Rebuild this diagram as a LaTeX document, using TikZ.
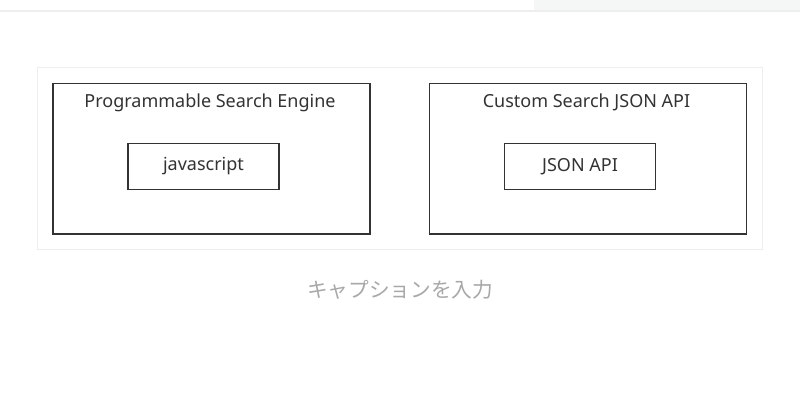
\documentclass[tikz,border=0pt]{standalone}
\usepackage{fontspec}
\setmainfont{Noto Sans}
\newfontfamily\jpfont{Noto Sans CJK JP}
\usetikzlibrary{positioning}
\definecolor{boxline}{HTML}{333333}
\definecolor{frameline}{HTML}{EEEEEE}
\definecolor{barfill}{HTML}{F5F6F6}
\definecolor{captiongray}{HTML}{A8A8A8}

\begin{document}
\begin{tikzpicture}[x=0.75pt,y=-0.75pt,
    service/.style={draw=boxline, line width=1.1pt, minimum width=238pt, minimum height=113pt, inner sep=0pt},
    apibox/.style={draw=boxline, line width=1.1pt, minimum width=113.5pt, minimum height=34.5pt, inner sep=0pt,
        text=boxline, font=\fontsize{13.5}{15}\selectfont},
    servicetitle/.style={text=boxline, inner sep=0pt, font=\fontsize{13.5}{15}\selectfont}]
    % Page and frame
    \useasboundingbox (0,0) rectangle (800,419);
    \fill[white] (0,0) rectangle (800,419);
    \fill[barfill] (534,0) rectangle (800,10);
    \draw[frameline, line width=1.5pt] (0,10.5) -- (800,10.5);
    \draw[frameline, line width=0.75pt] (37,67) rectangle (762,249);

    % Services with their inner boxes
    \foreach \name/\cx/\title/\inner in {pse/211.5/Programmable Search Engine/javascript,
                                          cse/588/Custom Search JSON API/JSON API} {
        \node[service] (\name) at (\cx,158.7) {};
        \node[servicetitle] (\name title) at (\cx-1.5,102.7) {\title};
        \node[apibox] (\name api) at (\cx-8,166.3) {\raisebox{2pt}{\inner}};
    }

    % Caption
    \node[text=captiongray, font=\jpfont\fontsize{15.5}{17}\selectfont] (caption) at (400,290) {キャプションを入力};
\end{tikzpicture}
\end{document}
